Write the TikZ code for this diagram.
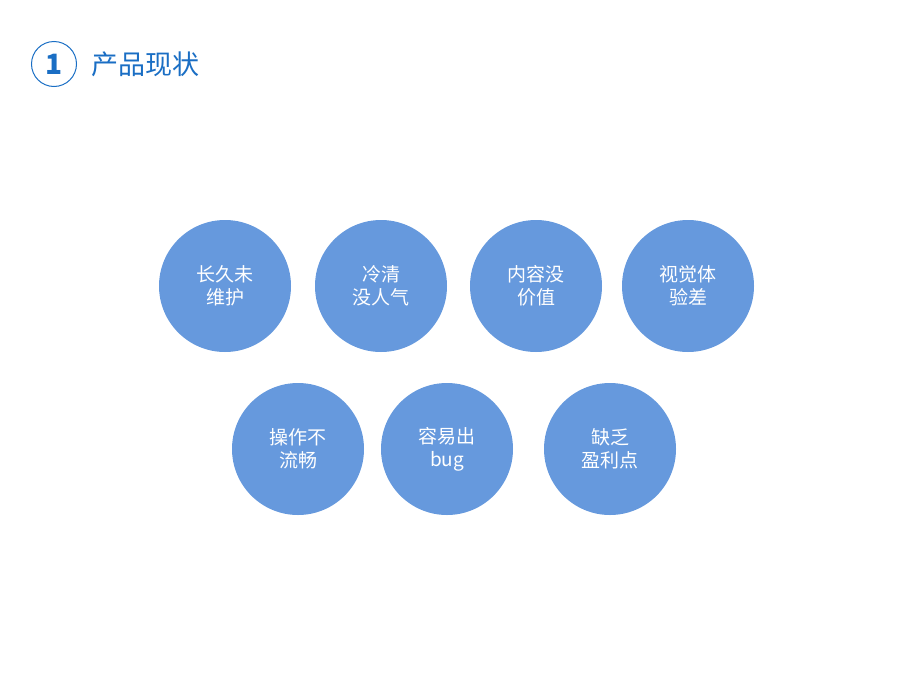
\documentclass[tikz,border=0pt]{standalone}
\usepackage{fontspec}
\setmainfont{Noto Sans CJK SC}
\newfontfamily\cjk{Noto Sans CJK SC}
\definecolor{ballblue}{HTML}{6699DD}
\definecolor{titleblue}{HTML}{1A6EC4}
\begin{document}
\begin{tikzpicture}[x=1pt,y=-1pt,
  ball/.style={circle,fill=ballblue,minimum size=132pt,inner sep=0pt,text=white,align=center,font=\cjk\fontsize{19}{23}\selectfont}]
\useasboundingbox (0,0) rectangle (900,675);
\node[circle,draw=titleblue,line width=1pt,minimum size=45pt,inner sep=0pt,text=titleblue,font=\cjk\bfseries\fontsize{28}{30}\selectfont] (num) at (54,64) {1};
\node[anchor=west,text=titleblue,font=\cjk\fontsize{27}{30}\selectfont,inner sep=0pt] (title) at (91,64) {产品现状};
\node[ball] (a) at (225,286) {长久未\\维护};
\node[ball] (b) at (381,286) {冷清\\没人气};
\node[ball] (c) at (536,286) {内容没\\价值};
\node[ball] (d) at (688,286) {视觉体\\验差};
\node[ball] (e) at (298,449) {操作不\\流畅};
\node[ball] (f) at (447,449) {容易出\\bug};
\node[ball] (g) at (610,449) {缺乏\\盈利点};
\end{tikzpicture}
\end{document}
